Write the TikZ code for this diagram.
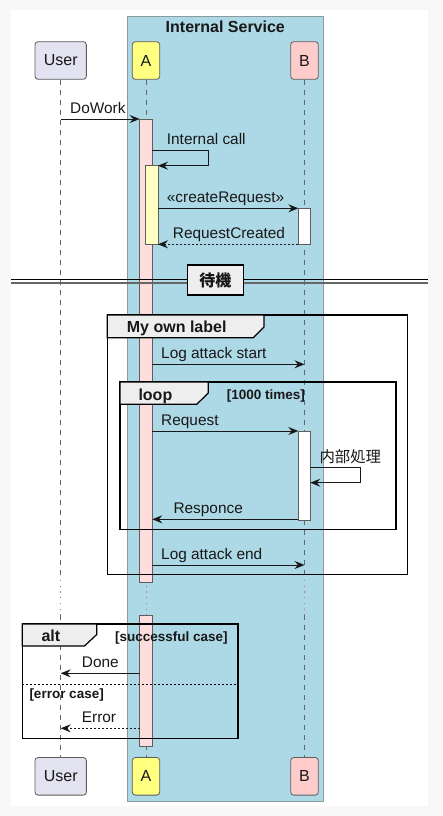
\documentclass[tikz,border=0pt]{standalone}
\usepackage{fontspec}
\setmainfont{Liberation Sans}
\newfontfamily\cjk{Noto Sans CJK JP}
\usetikzlibrary{arrows.meta}
\definecolor{bgout}{HTML}{F8F8F8}
\definecolor{boxblue}{HTML}{ADD8E6}
\definecolor{boxline}{HTML}{8C9AA0}
\definecolor{userfill}{HTML}{E2E2F0}
\definecolor{afill}{HTML}{FFFF80}
\definecolor{bfill}{HTML}{FFCCCC}
\definecolor{actA}{HTML}{FFDDDD}
\definecolor{actY}{HTML}{FFFFC0}
\definecolor{ink}{HTML}{181818}
\definecolor{tabfill}{HTML}{EEEEEE}
\definecolor{delayc}{HTML}{C0709A}
\definecolor{lifec}{HTML}{666666}
\tikzset{
  part/.style={draw=ink!70, line width=0.8pt, rounded corners=3pt, inner sep=0pt,
    minimum height=37.6pt, font=\fontsize{16}{18}\selectfont, text=ink},
  lifeline/.style={draw=lifec, line width=0.8pt, dash pattern=on 5pt off 5pt},
  delayline/.style={draw=delayc, line width=1pt, dash pattern=on 1.2pt off 4.5pt},
  actbar/.style={draw=ink!70, line width=0.9pt},
  msg/.style={draw=ink, line width=1pt, -{Stealth[length=10pt,width=8pt,inset=3.5pt]}},
  retmsg/.style={msg, dash pattern=on 2pt off 2pt},
  lbl/.style={anchor=base west, inner sep=0pt, font=\fontsize{15.4}{17}\selectfont, text=ink},
  frame/.style={draw=black, line width=1.6pt},
  tab/.style={draw=black, line width=1.2pt, fill=tabfill},
  tabtxt/.style={anchor=base west, inner sep=0pt, font=\fontsize{16}{18}\selectfont\bfseries, text=ink},
  guard/.style={anchor=base west, inner sep=0pt, font=\fontsize{13.5}{15}\selectfont\bfseries, text=ink}
}
\begin{document}
\begin{tikzpicture}[x=1pt,y=-1pt]
\useasboundingbox (0,0) rectangle (442,816);
\fill[bgout] (0,0) rectangle (442,816);
\fill[white] (11,10) rectangle (428,806);
% box
\draw[boxline, fill=boxblue, line width=0.8pt] (127.3,16) rectangle (323.3,801);
\node[anchor=base, inner sep=0pt, font=\fontsize{16}{18}\selectfont\bfseries, text=ink] (boxtitle) at (225.3,32.5) {Internal Service};
% participants
\node[part, fill=userfill, minimum width=51.3pt] (Ut) at (60.7,60.5) {User};
\node[part, fill=afill, minimum width=27.4pt] (At) at (146,60.5) {A};
\node[part, fill=bfill, minimum width=27.6pt] (Bt) at (304.5,60.5) {B};
\node[part, fill=userfill, minimum width=51.3pt] (Ub) at (60.7,776.3) {User};
\node[part, fill=afill, minimum width=27.4pt] (Ab) at (146,776.3) {A};
\node[part, fill=bfill, minimum width=27.6pt] (Bb) at (304.5,776.3) {B};
% lifelines
\coordinate (ud1) at (60.7,580); \coordinate (ud2) at (60.7,615);
\coordinate (ad1) at (146,580); \coordinate (ad2) at (146,615);
\coordinate (bd1) at (304.5,580); \coordinate (bd2) at (304.5,615);
\draw[lifeline] (Ut.south) -- (ud1);
\draw[delayline] (ud1) -- (ud2);
\draw[lifeline] (ud2) -- (Ub.north);
\draw[lifeline] (At.south) -- (ad1);
\draw[delayline] (ad1) -- (ad2);
\draw[lifeline] (ad2) -- (Ab.north);
\draw[lifeline] (Bt.south) -- (bd1);
\draw[delayline] (bd1) -- (bd2);
\draw[lifeline] (bd2) -- (Bb.north);
% activations
\draw[actbar, fill=actA] (139.7,119) rectangle (152.3,582.7);
\draw[actbar, fill=actA] (139.7,615.7) rectangle (152.3,746.7);
\draw[actbar, fill=actY] (145.7,165.7) rectangle (158,244);
\draw[actbar, fill=white] (298.3,208.3) rectangle (310.3,244);
\draw[actbar, fill=white] (298.3,431) rectangle (310.3,520);
% divider
\draw[black, line width=1pt] (11,279) -- (428,279);
\draw[black!60, line width=1.5pt] (11,282.8) -- (428,282.8);
\node[draw=black, line width=1.6pt, fill=tabfill, minimum width=56pt, minimum height=30pt, inner sep=0pt,
  font=\fontsize{16}{18}\selectfont\cjk\bfseries, text=ink] (wait) at (215.3,280) {待機};
% group: My own label
\draw[frame] (107.3,315) rectangle (407.3,574.3);
\draw[tab] (107.3,315) -- (264,315) -- (264,327) -- (253.3,337.7) -- (107.3,337.7) -- cycle;
\node[tabtxt] (g1) at (126.7,332.5) {My own label};
% loop
\draw[frame] (120,382) rectangle (396,529.3);
\draw[tab] (120,382) -- (208.3,382) -- (208.3,393) -- (196.7,404.3) -- (120,404.3) -- cycle;
\node[tabtxt] (g2) at (138.3,400) {loop};
\node[guard] (g2g) at (226.7,399.3) {[1000 times]};
% alt
\draw[frame] (22.3,624) rectangle (237.7,738.3);
\draw[tab] (22.3,624) -- (96.7,624) -- (96.7,634.5) -- (84.5,646) -- (22.3,646) -- cycle;
\node[tabtxt] (g3) at (41.3,641.7) {alt};
\node[guard] (g3g) at (115,641.7) {[successful case]};
\draw[black, line width=1pt, dash pattern=on 2pt off 2pt] (22.3,684) -- (237.7,684);
\node[guard] (g3e) at (29.3,698.3) {[error case]};
% messages
\coordinate (m1a) at (60.7,119); \coordinate (m1b) at (139.7,119);
\draw[msg] (m1a) -- (m1b);
\node[lbl] (l1) at (70,113.8) {DoWork};
\coordinate (m2a) at (152.3,150); \coordinate (m2b) at (208.3,150);
\coordinate (m2c) at (208.3,165.7); \coordinate (m2d) at (158,165.7);
\draw[msg] (m2a) -- (m2b) -- (m2c) -- (m2d);
\node[lbl] (l2) at (166.7,144) {Internal call};
\coordinate (m3a) at (158,208.3); \coordinate (m3b) at (298.3,208.3);
\draw[msg] (m3a) -- (m3b);
\node[lbl] (l3) at (166.7,202.3) {«createRequest»};
\coordinate (m4a) at (298.3,244.3); \coordinate (m4b) at (158,244.3);
\draw[retmsg] (m4a) -- (m4b);
\node[lbl] (l4) at (172.7,238.8) {RequestCreated};
\coordinate (m5a) at (152.3,364.3); \coordinate (m5b) at (304.5,364.3);
\draw[msg] (m5a) -- (m5b);
\node[lbl] (l5) at (161,358.8) {Log attack start};
\coordinate (m6a) at (152.3,431); \coordinate (m6b) at (298.3,431);
\draw[msg] (m6a) -- (m6b);
\node[lbl] (l6) at (161,425.5) {Request};
\coordinate (m7a) at (310.3,467.7); \coordinate (m7b) at (360.7,467.7);
\coordinate (m7c) at (360.7,482.7); \coordinate (m7d) at (310.3,482.7);
\draw[msg] (m7a) -- (m7b) -- (m7c) -- (m7d);
\node[lbl, font=\fontsize{15.4}{17}\selectfont\cjk] (l7) at (319.3,462) {内部処理};
\coordinate (m8a) at (298.3,519.3); \coordinate (m8b) at (152.3,519.3);
\draw[msg] (m8a) -- (m8b);
\node[lbl] (l8) at (173.3,513.8) {Responce};
\coordinate (m9a) at (152.3,565); \coordinate (m9b) at (304.5,565);
\draw[msg] (m9a) -- (m9b);
\node[lbl] (l9) at (161,559.5) {Log attack end};
\coordinate (m10a) at (139.7,673.3); \coordinate (m10b) at (60.7,673.3);
\draw[msg] (m10a) -- (m10b);
\node[lbl] (l10) at (81.7,667.8) {Done};
\coordinate (m11a) at (139.7,728.3); \coordinate (m11b) at (60.7,728.3);
\draw[retmsg] (m11a) -- (m11b);
\node[lbl] (l11) at (81.7,722.8) {Error};
\end{tikzpicture}
\end{document}
